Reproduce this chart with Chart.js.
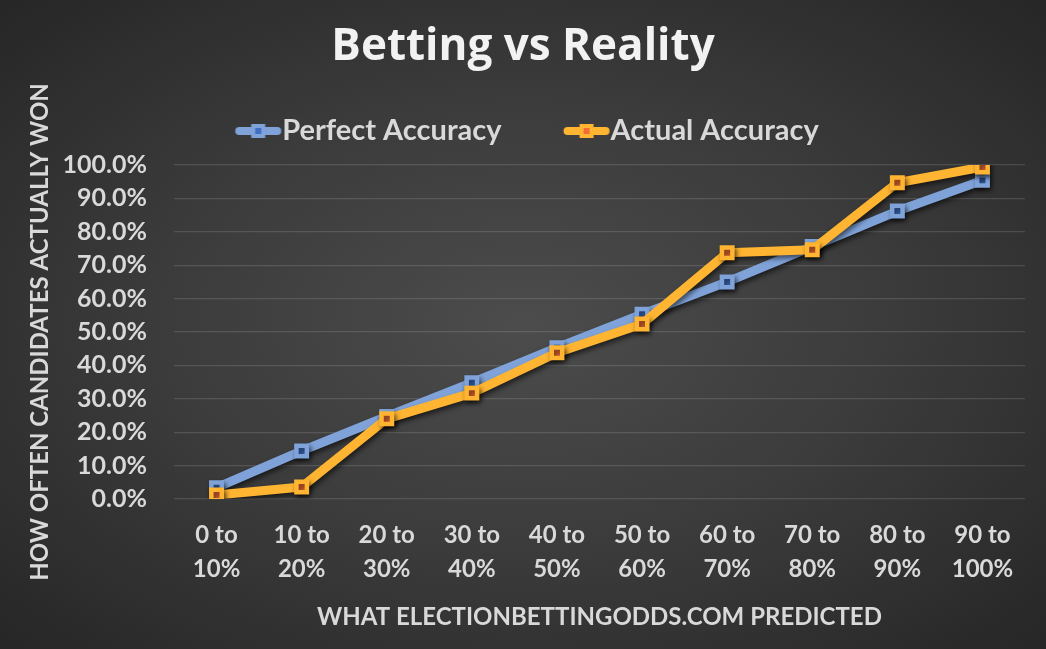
<!DOCTYPE html>
<html><head><meta charset="utf-8">
<script src="https://cdn.jsdelivr.net/npm/chart.js@4.4.1/dist/chart.umd.min.js"></script>
<style>
html,body{margin:0;padding:0;}
body{width:1046px;height:649px;overflow:hidden;background:radial-gradient(ellipse farthest-corner at 50% 50%, #4c4c4c 0%, #3b3b3b 50%, #262626 100%);}
#wrap{position:relative;width:1046px;height:649px;}
</style></head><body>
<div id="wrap"><canvas id="c" width="1046" height="649"></canvas></div>
<script>
const categories = [['0 to','10%'],['10 to','20%'],['20 to','30%'],['30 to','40%'],['40 to','50%'],['50 to','60%'],['60 to','70%'],['70 to','80%'],['80 to','90%'],['90 to','100%']];
const perfectAccuracy = [3.4, 14.4, 24.7, 34.8, 45.3, 55.3, 65.0, 75.6, 86.2, 95.4];
const actualAccuracy  = [1.2, 3.6, 24.0, 31.7, 43.8, 52.4, 73.7, 74.6, 94.7, 99.4];
const yTickLabels = ['0.0%','10.0%','20.0%','30.0%','40.0%','50.0%','60.0%','70.0%','80.0%','90.0%','100.0%'];
const seriesNames = ['Perfect Accuracy','Actual Accuracy'];

const BLUE_LINE = '#7FA3D9', BLUE_FILL = '#3F6EC2';
const ORANGE_LINE = '#FFB531', ORANGE_FILL = '#F26D35';
const TEXT = '#d9d9d9';

function legendIcon(lineColor, fillColor) {
  const L = 46, W = 90, a = W / 2 - 12.25, H = 22;
  const c = document.createElement('canvas'); c.width = W; c.height = H;
  const g = c.getContext('2d');
  g.lineCap = 'round'; g.strokeStyle = lineColor; g.lineWidth = 8;
  g.beginPath(); g.moveTo(a + 4, H / 2); g.lineTo(a + L - 4, H / 2); g.stroke();
  const cx = a + L / 2, s = 10;
  g.fillStyle = fillColor; g.fillRect(cx - s / 2, H / 2 - s / 2, s, s);
  g.strokeStyle = lineColor; g.lineWidth = 4;
  g.strokeRect(cx - s / 2, H / 2 - s / 2, s, s);
  return c;
}
const icons = [legendIcon(BLUE_LINE, BLUE_FILL), legendIcon(ORANGE_LINE, ORANGE_FILL)];

const shadowPlugin = {
  id: 'lineShadow',
  beforeDatasetDraw(chart) {
    const ctx = chart.ctx; ctx.save();
    ctx.shadowColor = 'rgba(0,0,0,0.55)'; ctx.shadowBlur = 5; ctx.shadowOffsetX = 2; ctx.shadowOffsetY = 3;
  },
  afterDatasetDraw(chart) { chart.ctx.restore(); }
};

Chart.defaults.font.family = 'Lato';
Chart.defaults.font.weight = 'bold';

new Chart(document.getElementById('c'), {
  type: 'line',
  data: {
    labels: categories,
    datasets: [
      { label: seriesNames[0], data: perfectAccuracy, borderColor: BLUE_LINE, borderWidth: 9,
        borderJoinStyle: 'round', pointStyle: 'rect', pointRadius: 7.4, pointHoverRadius: 7.4,
        pointBorderWidth: 4.5, pointBackgroundColor: BLUE_FILL, pointBorderColor: BLUE_LINE, order: 2, tension: 0 },
      { label: seriesNames[1], data: actualAccuracy, borderColor: ORANGE_LINE, borderWidth: 9,
        borderJoinStyle: 'round', pointStyle: 'rect', pointRadius: 7.4, pointHoverRadius: 7.4,
        pointBorderWidth: 4.5, pointBackgroundColor: ORANGE_FILL, pointBorderColor: ORANGE_LINE, order: 1, tension: 0 }
    ]
  },
  options: {
    responsive: false,
    animation: false,
    devicePixelRatio: 1,
    layout: { padding: { left: 0, right: 0, top: 0, bottom: 0 } },
    plugins: {
      tooltip: { enabled: false },
      title: {
        display: true, text: 'Betting vs Reality', color: '#f2f2f2',
        font: { family: 'Open Sans', size: 44, weight: 'bold', lineHeight: 1.2 },
        padding: { top: 15, bottom: -10.9 }
      },
      subtitle: {
        display: true, text: '', weight: 500, position: 'top',
        font: { size: 9.5, lineHeight: 1 }, padding: 0
      },
      legend: {
        display: true, position: 'top',
        labels: {
          usePointStyle: true, pointStyleWidth: 40.5, padding: 54, color: TEXT,
          font: { family: 'Lato', size: 29, weight: 'bold' },
          generateLabels: (chart) => chart.data.datasets.map((ds, i) => ({
            text: ds.label, pointStyle: icons[i], fontColor: TEXT, hidden: false,
            datasetIndex: i, lineWidth: 0, strokeStyle: 'rgba(0,0,0,0)', fillStyle: 'rgba(0,0,0,0)'
          }))
        }
      }
    },
    scales: {
      x: {
        type: 'category', offset: true,
        grid: { display: false, drawTicks: false }, border: { display: false },
        ticks: { color: TEXT, font: { family: 'Lato', size: 24, weight: 'bold', lineHeight: 1.43 },
                 padding: 19, maxRotation: 0, autoSkip: false },
        title: { display: true, text: 'WHAT ELECTIONBETTINGODDS.COM PREDICTED', color: TEXT,
                 font: { family: 'Lato', size: 24, weight: 'bold', lineHeight: 1.2 }, padding: { top: 0, bottom: 17.6 } },
        afterFit: (s) => { s.height = 150; s.paddingLeft = 0; s.paddingRight = 21; }
      },
      y: {
        min: 0, max: 100,
        grid: { color: 'rgba(255,255,255,0.13)', lineWidth: 1.3, drawTicks: false },
        border: { display: false },
        ticks: { stepSize: 10, color: TEXT, padding: 27,
                 font: { family: 'Lato', size: 25, weight: 'bold' },
                 callback: (v, i) => yTickLabels[i] },
        title: { display: true, text: 'HOW OFTEN CANDIDATES ACTUALLY WON', color: TEXT,
                 font: { family: 'Lato', size: 24, weight: 'bold', lineHeight: 1.2 }, padding: { top: 25.6, bottom: 0 } },
        afterFit: (s) => { s.width = 174; s.paddingTop = 165; }
      }
    }
  },
  plugins: [shadowPlugin]
});
</script>
</body></html>
